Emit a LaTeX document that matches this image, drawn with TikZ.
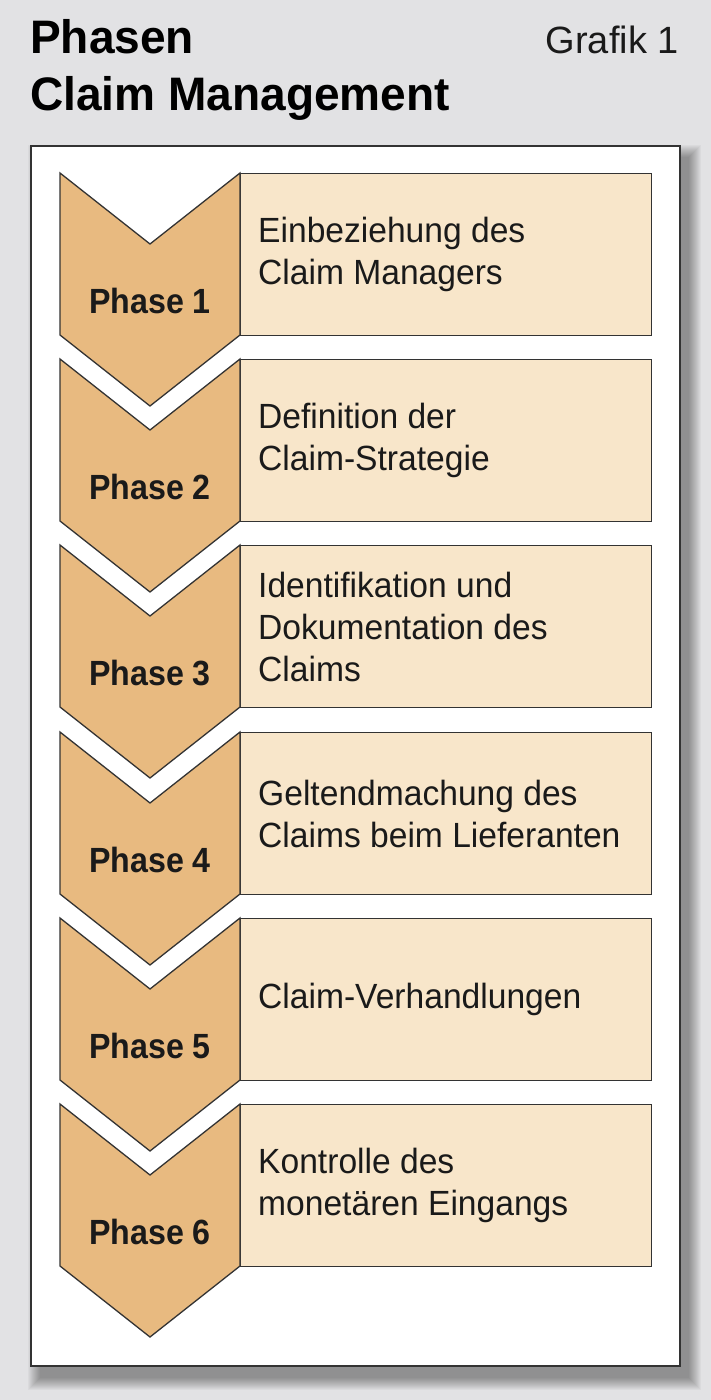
\documentclass[tikz,border=0pt]{standalone}
\usepackage{fontspec}
\setmainfont{Liberation Sans}
\newfontfamily\descfont[FakeStretch=0.96]{Liberation Sans}
\newfontfamily\phasefont[FakeStretch=0.92]{Liberation Sans}
\newfontfamily\titlefont[FakeStretch=0.98]{Liberation Sans}
\definecolor{bgcol}{HTML}{E2E2E4}
\definecolor{chevfill}{HTML}{E8BA80}
\definecolor{boxfill}{HTML}{F8E6CA}
\definecolor{linecol}{HTML}{333333}
\definecolor{txtcol}{HTML}{1A1A1A}
\begin{document}
\begin{tikzpicture}[x=1pt,y=-1pt,
  chev/.style={fill=chevfill,draw=linecol,line width=1.3pt,line join=miter},
  stepbox/.style={rectangle,fill=boxfill,draw=linecol,line width=1.3pt,
    minimum width=411pt,minimum height=162pt,anchor=north west,inner sep=0pt},
  phaselabel/.style={font=\phasefont\bfseries\fontsize{35}{40}\selectfont,
    text=txtcol,inner sep=0pt,anchor=base},
  desc/.style={font=\descfont\fontsize{35}{42}\selectfont,text=txtcol,
    align=left,anchor=west,inner sep=0pt},
  framebox/.style={rectangle,fill=white,draw=linecol,line width=1.8pt,
    minimum width=649pt,minimum height=1220pt,anchor=north west,inner sep=0pt}
]
\useasboundingbox (0,0) rectangle (711,1400);
\fill[bgcol] (0,0) rectangle (711,1400);
% shadow
\foreach \e in {0,...,12}
  \fill[black,opacity=0.032] (40-\e,157-\e) rectangle (689+\e,1378+\e);
% frame
\node[framebox] (frame) at (30,145) {};
% title
\node[font=\titlefont\bfseries\fontsize{47}{57}\selectfont,text=black,
  align=left,anchor=north west,inner sep=0pt] (title) at (30,19)
  {Phasen\\Claim Management};
\node[font=\fontsize{38}{44}\selectfont,text=txtcol,anchor=base east,
  inner sep=0pt] (grafik) at (679,53) {Grafik 1};
% phases
\foreach \i/\t/\txt in {
  1/173/{Einbeziehung des\\Claim Managers},
  2/359/{Definition der\\Claim-Strategie},
  3/545/{Identifikation und\\Dokumentation des\\Claims},
  4/732/{Geltendmachung des\\Claims beim Lieferanten},
  5/918/{Claim-Verhandlungen},
  6/1104/{Kontrolle des\\monetären Eingangs}}{
  \node[stepbox] (b\i) at (240,\t) {};
  \draw[chev] (60,\t) -- (150,\t+71) -- (240,\t) -- (240,\t+162)
     -- (150,\t+233) -- (60,\t+162) -- cycle;
  \node[phaselabel] (p\i) at (150,\t+140) {Phase \i};
  \node[desc] (d\i) at ([xshift=18pt]b\i.west) {\txt};
}
\end{tikzpicture}
\end{document}
